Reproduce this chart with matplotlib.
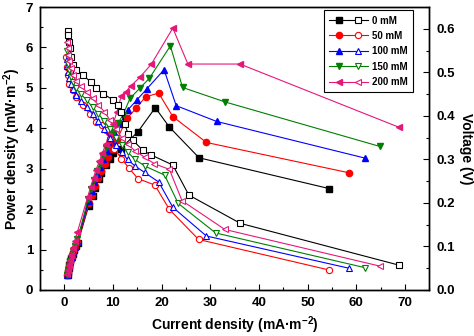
import matplotlib.pyplot as plt
from matplotlib.legend_handler import HandlerTuple
from matplotlib.ticker import MultipleLocator

plt.rcParams['font.family'] = ['Liberation Sans', 'DejaVu Sans']
plt.rcParams['font.weight'] = 'bold'
plt.rcParams['mathtext.fontset'] = 'custom'
plt.rcParams['mathtext.bf'] = 'Liberation Sans:bold'
plt.rcParams['mathtext.rm'] = 'Liberation Sans:bold'
plt.rcParams['mathtext.default'] = 'bf'

labels = ["0 mM", "50 mM", "100 mM", "150 mM", "200 mM"]
colors = ["#000000", "#ff0000", "#0000ff", "#007f00", "#e5187a"]
markers_on = ["s", "o", "^", "v", "<"]

# power density (filled markers, left axis)
p_x_0 = [0.7, 0.8, 0.9, 1.0, 1.2, 1.4, 1.7, 2.0, 2.4, 2.75, 5.0, 5.8, 6.4, 7.1, 7.6, 8.6, 9.3, 10.0, 11.6, 15.1, 18.7, 21.6, 27.7, 54.4]
p_y_0 = [0.37, 0.45, 0.55, 0.63, 0.72, 0.8, 0.9, 1.0, 1.1, 1.16, 2.08, 2.33, 2.53, 2.74, 2.89, 3.09, 3.23, 3.38, 3.5, 3.91, 4.51, 4.03, 3.27, 2.51]
p_x_50 = [0.6, 0.8, 1.0, 1.2, 1.5, 1.8, 2.2, 2.7, 5.1, 5.7, 6.3, 7.0, 7.6, 8.3, 9.0, 9.8, 10.8, 12.9, 14.8, 16.7, 19.4, 22.3, 29.2, 58.5]
p_y_50 = [0.38, 0.48, 0.58, 0.68, 0.8, 0.92, 1.04, 1.18, 2.15, 2.35, 2.58, 2.78, 2.95, 3.12, 3.3, 3.5, 3.72, 4.25, 4.5, 4.78, 4.87, 4.29, 3.65, 2.9]
p_x_100 = [0.6, 0.8, 1.0, 1.2, 1.5, 1.8, 2.2, 2.7, 5.0, 5.6, 6.2, 6.8, 7.4, 8.0, 8.8, 9.6, 10.4, 11.4, 13.1, 14.9, 17.0, 20.5, 23.0, 31.3, 61.9]
p_y_100 = [0.38, 0.48, 0.6, 0.7, 0.82, 0.94, 1.06, 1.22, 2.2, 2.45, 2.68, 2.88, 3.05, 3.25, 3.45, 3.65, 3.85, 4.1, 4.46, 4.7, 4.98, 5.45, 4.56, 4.17, 3.26]
p_x_150 = [0.6, 0.8, 1.0, 1.2, 1.5, 1.8, 2.2, 2.7, 4.9, 5.5, 6.1, 6.7, 7.3, 7.9, 8.6, 9.4, 10.2, 11.0, 12.0, 13.5, 15.5, 17.5, 21.8, 24.3, 33.1, 64.9]
p_y_150 = [0.38, 0.5, 0.6, 0.72, 0.84, 0.96, 1.1, 1.25, 2.25, 2.5, 2.72, 2.95, 3.12, 3.3, 3.52, 3.72, 3.92, 4.12, 4.32, 4.74, 4.99, 5.24, 6.04, 5.01, 4.65, 3.55]
p_x_200 = [0.5, 0.7, 0.9, 1.1, 1.3, 1.7, 2.1, 2.7, 4.8, 5.4, 6.0, 6.5, 7.2, 7.8, 8.5, 9.2, 10.0, 10.8, 11.7, 12.7, 13.7, 15.5, 17.9, 22.3, 25.4, 36.1, 68.7]
p_y_200 = [0.4, 0.5, 0.62, 0.74, 0.86, 1.03, 1.2, 1.44, 2.3, 2.55, 2.78, 2.97, 3.18, 3.38, 3.6, 3.85, 4.1, 4.4, 4.8, 4.91, 5.05, 5.26, 5.59, 6.48, 5.59, 5.59, 4.03]

# voltage (open markers, right axis)
v_x_0 = [0.7, 0.8, 0.9, 1.1, 1.4, 1.7, 2.5, 3.8, 5.5, 6.5, 7.9, 10.0, 11.0, 11.7, 12.4, 13.1, 14.1, 16.1, 17.9, 22.3, 25.6, 36.2, 68.8]
v_y_0 = [0.594, 0.585, 0.57, 0.555, 0.535, 0.516, 0.505, 0.493, 0.478, 0.463, 0.451, 0.437, 0.424, 0.409, 0.382, 0.359, 0.344, 0.321, 0.31, 0.287, 0.218, 0.153, 0.057]
v_x_50 = [0.3, 0.5, 0.7, 1.0, 1.7, 2.4, 3.8, 5.2, 6.5, 7.8, 8.5, 9.3, 10.3, 11.7, 13.3, 15.1, 18.6, 21.6, 27.6, 54.4]
v_y_50 = [0.535, 0.512, 0.493, 0.474, 0.459, 0.443, 0.424, 0.405, 0.386, 0.378, 0.367, 0.348, 0.325, 0.302, 0.28, 0.256, 0.241, 0.185, 0.116, 0.046]
v_x_100 = [0.5, 0.6, 0.8, 1.0, 1.3, 1.7, 2.4, 3.4, 4.6, 5.8, 7.0, 8.2, 9.4, 10.6, 11.8, 13.0, 14.5, 16.5, 19.4, 22.3, 29.2, 58.5]
v_y_100 = [0.53, 0.515, 0.5, 0.487, 0.474, 0.462, 0.448, 0.434, 0.42, 0.404, 0.388, 0.37, 0.35, 0.333, 0.316, 0.3, 0.285, 0.27, 0.248, 0.19, 0.124, 0.05]
v_x_150 = [0.6, 0.7, 0.8, 1.0, 1.3, 1.7, 2.4, 3.4, 4.6, 5.8, 7.0, 8.2, 9.4, 10.6, 11.8, 13.0, 14.5, 16.5, 20.6, 23.4, 31.1, 61.9]
v_y_150 = [0.55, 0.535, 0.52, 0.505, 0.49, 0.477, 0.463, 0.45, 0.436, 0.42, 0.405, 0.388, 0.37, 0.35, 0.333, 0.317, 0.3, 0.285, 0.264, 0.199, 0.131, 0.051]
v_x_200 = [0.6, 0.7, 0.8, 1.0, 1.3, 1.7, 2.4, 3.4, 4.6, 5.8, 7.0, 8.2, 9.4, 10.6, 11.8, 13.0, 14.5, 16.5, 18.5, 21.6, 24.2, 33.0, 64.8]
v_y_200 = [0.57, 0.555, 0.54, 0.525, 0.51, 0.495, 0.48, 0.468, 0.455, 0.44, 0.425, 0.41, 0.39, 0.37, 0.35, 0.335, 0.32, 0.305, 0.29, 0.277, 0.205, 0.139, 0.055]

power = [(p_x_0, p_y_0), (p_x_50, p_y_50), (p_x_100, p_y_100), (p_x_150, p_y_150), (p_x_200, p_y_200)]
voltage = [(v_x_0, v_y_0), (v_x_50, v_y_50), (v_x_100, v_y_100), (v_x_150, v_y_150), (v_x_200, v_y_200)]

fig = plt.figure(figsize=(4.74, 3.36), dpi=100)
ax = fig.add_axes([0.0844, 0.137, 0.821, 0.842])
ax2 = ax.twinx()

handles = []
for i in range(5):
    h1, = ax.plot(power[i][0], power[i][1], color=colors[i], lw=0.8, marker=markers_on[i],
                  ms=4.5, mfc=colors[i], mec=colors[i])
    h2, = ax2.plot(voltage[i][0], voltage[i][1], color=colors[i], lw=0.8, marker=markers_on[i],
                   ms=4.5, mfc='white', mec=colors[i], mew=0.8)
    handles.append((h1, h2))

ax.set_xlim(-5, 75)
ax.set_ylim(0, 7)
ax2.set_ylim(0, 0.65)
ax.xaxis.set_major_locator(MultipleLocator(10))
ax.xaxis.set_minor_locator(MultipleLocator(5))
ax.yaxis.set_major_locator(MultipleLocator(1))
ax.yaxis.set_minor_locator(MultipleLocator(0.5))
ax2.yaxis.set_major_locator(MultipleLocator(0.1))
ax2.yaxis.set_minor_locator(MultipleLocator(0.05))
ax.set_xticks([0, 10, 20, 30, 40, 50, 60, 70])

for a in (ax, ax2):
    a.tick_params(which='both', direction='in', labelsize=9.5, width=0.8)
    a.tick_params(which='major', length=4, pad=5)
    a.tick_params(which='minor', length=2)
    for s in a.spines.values():
        s.set_linewidth(1.0)
ax.tick_params(axis='y', which='both', right=False)
ax.tick_params(axis='x', which='both', top=False)

ax.set_xlabel("Current density (mA·m$^{-2}$)", fontsize=10, fontweight='bold', labelpad=4)
ax.set_ylabel("Power density (mW·m$^{-2}$)", fontsize=10, fontweight='bold', labelpad=2)
ax2.set_ylabel("Voltage (V)", fontsize=10, fontweight='bold', rotation=270, labelpad=13)

leg = ax2.legend(handles, labels, handler_map={tuple: HandlerTuple(ndivide=None, pad=0)},
                 loc='upper right', bbox_to_anchor=(0.959, 0.989), borderaxespad=0,
                 fontsize=7, handlelength=4.0, handletextpad=0.4, labelspacing=0.55,
                 borderpad=0.55, fancybox=False, edgecolor='black', framealpha=1)
leg.get_frame().set_linewidth(0.8)
for t in leg.get_texts():
    t.set_fontweight('bold')

fig.savefig("out.png", dpi=100)
